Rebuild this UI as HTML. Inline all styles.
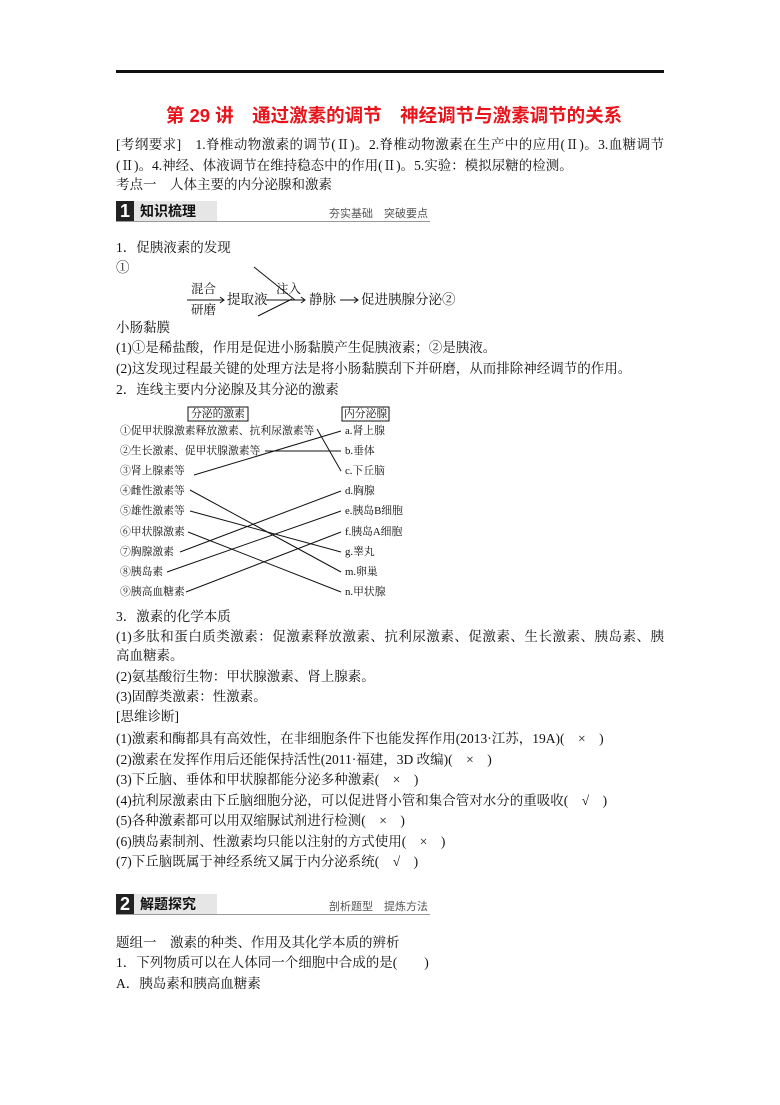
<!DOCTYPE html>
<html><head><meta charset="utf-8"><style>
body{margin:0;width:780px;height:1105px;background:#fff;position:relative;overflow:hidden;font-family:"Liberation Serif","Noto Serif CJK SC","Noto Sans CJK SC",serif;color:#111}
.t{position:absolute;left:116px;font-size:13.5px;line-height:20px;white-space:nowrap}
.j{text-align:justify;text-align-last:justify;width:548px}
.s{position:absolute;font-size:10.8px;line-height:14px;white-space:nowrap;font-family:"Liberation Serif","Noto Serif CJK SC",serif}
.hd{position:absolute;left:116px;height:20px;width:314px;border-bottom:1px solid #999}
.hd .n{position:absolute;left:0;top:0;width:18px;height:20px;background:#222;color:#fff;font:bold 18px/20px "Liberation Sans",sans-serif;text-align:center}
.hd .g{position:absolute;left:18px;top:0;width:83px;height:20px;background:#e6e6e6;font:bold 14px/20px "Liberation Sans","Noto Sans CJK SC",sans-serif;padding-left:6px;box-sizing:border-box}
.hd .r{position:absolute;right:2px;top:4px;font:11px/16px "Noto Sans CJK SC",sans-serif;color:#555}
</style></head><body>
<div style="position:absolute;left:116px;top:70px;width:548px;height:3px;background:#111"></div>
<div style="position:absolute;left:0;width:780px;top:104px;text-align:center;color:#e8141b;font:bold 18.5px/24px 'Liberation Sans','Noto Sans CJK SC',sans-serif;padding-left:4px">第 29 讲　通过激素的调节　神经调节与激素调节的关系</div>
<div class="t j" style="top:135px">[考纲要求]　1.脊椎动物激素的调节(Ⅱ)。2.脊椎动物激素在生产中的应用(Ⅱ)。3.血糖调节</div>
<div class="t" style="top:156px">(Ⅱ)。4.神经、体液调节在维持稳态中的作用(Ⅱ)。5.实验：模拟尿糖的检测。</div>
<div class="t" style="top:175px">考点一　人体主要的内分泌腺和激素</div>
<div class="hd" style="top:201px"><div class="n">1</div><div class="g">知识梳理</div><div class="r">夯实基础　突破要点</div></div>
<div class="t" style="top:238px">1．促胰液素的发现</div>
<div class="t" style="top:258px">①</div>
<svg style="position:absolute;left:0;top:0" width="780" height="1105">
<g stroke="#111" stroke-width="1" fill="none">
<line x1="187" y1="300" x2="224" y2="300"/><polyline points="220,297 224,300 220,303"/>
<line x1="266" y1="300" x2="305" y2="300"/><polyline points="301,297 305,300 301,303"/>
<line x1="254" y1="267" x2="295" y2="300"/><line x1="258" y1="316" x2="292" y2="299"/>
<line x1="340" y1="300" x2="358" y2="300"/><polyline points="354,297 358,300 354,303"/>
<rect x="188" y="407" width="60" height="14"/><rect x="342" y="407" width="47" height="14"/>
<line x1="317" y1="429" x2="341" y2="471"/>
<line x1="265" y1="451" x2="341" y2="451"/>
<line x1="194" y1="475" x2="341" y2="431"/>
<line x1="190" y1="490" x2="341" y2="572"/>
<line x1="190" y1="511" x2="341" y2="552"/>
<line x1="188" y1="532" x2="341" y2="592"/>
<line x1="180" y1="552" x2="341" y2="491"/>
<line x1="167" y1="572" x2="341" y2="511"/>
<line x1="186" y1="592" x2="341" y2="532"/>
</g></svg>
<div class="t" style="top:279px;left:191px;font-size:12.5px">混合</div>
<div class="t" style="top:300px;left:191px;font-size:12.5px">研磨</div>
<div class="t" style="top:290px;left:227px">提取液</div>
<div class="t" style="top:279px;left:276px;font-size:12.5px">注入</div>
<div class="t" style="top:290px;left:309px">静脉</div>
<div class="t" style="top:290px;left:361px">促进胰腺分泌②</div>
<div class="t" style="top:318px">小肠黏膜</div>
<div class="t" style="top:338px">(1)①是稀盐酸，作用是促进小肠黏膜产生促胰液素；②是胰液。</div>
<div class="t" style="top:359px">(2)这发现过程最关键的处理方法是将小肠黏膜刮下并研磨，从而排除神经调节的作用。</div>
<div class="t" style="top:380px">2．连线主要内分泌腺及其分泌的激素</div>
<div class="s" style="left:191px;top:407px">分泌的激素</div>
<div class="s" style="left:344px;top:407px">内分泌腺</div>
<div class="s" style="left:120px;top:424px">①促甲状腺激素释放激素、抗利尿激素等</div>
<div class="s" style="left:120px;top:444px">②生长激素、促甲状腺激素等</div>
<div class="s" style="left:120px;top:464px">③肾上腺素等</div>
<div class="s" style="left:120px;top:484px">④雌性激素等</div>
<div class="s" style="left:120px;top:504px">⑤雄性激素等</div>
<div class="s" style="left:120px;top:525px">⑥甲状腺激素</div>
<div class="s" style="left:120px;top:545px">⑦胸腺激素</div>
<div class="s" style="left:120px;top:565px">⑧胰岛素</div>
<div class="s" style="left:120px;top:585px">⑨胰高血糖素</div>
<div class="s" style="left:345px;top:424px">a.肾上腺</div>
<div class="s" style="left:345px;top:444px">b.垂体</div>
<div class="s" style="left:345px;top:464px">c.下丘脑</div>
<div class="s" style="left:345px;top:484px">d.胸腺</div>
<div class="s" style="left:345px;top:504px">e.胰岛B细胞</div>
<div class="s" style="left:345px;top:525px">f.胰岛A细胞</div>
<div class="s" style="left:345px;top:545px">g.睾丸</div>
<div class="s" style="left:345px;top:565px">m.卵巢</div>
<div class="s" style="left:345px;top:585px">n.甲状腺</div>
<div class="t" style="top:607px">3．激素的化学本质</div>
<div class="t j" style="top:627px">(1)多肽和蛋白质类激素：促激素释放激素、抗利尿激素、促激素、生长激素、胰岛素、胰</div>
<div class="t" style="top:646px">高血糖素。</div>
<div class="t" style="top:667px">(2)氨基酸衍生物：甲状腺激素、肾上腺素。</div>
<div class="t" style="top:687px">(3)固醇类激素：性激素。</div>
<div class="t" style="top:707px">[思维诊断]</div>
<div class="t" style="top:729px">(1)激素和酶都具有高效性，在非细胞条件下也能发挥作用(2013·江苏，19A)(　×　)</div>
<div class="t" style="top:750px">(2)激素在发挥作用后还能保持活性(2011·福建，3D 改编)(　×　)</div>
<div class="t" style="top:770px">(3)下丘脑、垂体和甲状腺都能分泌多种激素(　×　)</div>
<div class="t" style="top:791px">(4)抗利尿激素由下丘脑细胞分泌，可以促进肾小管和集合管对水分的重吸收(　√　)</div>
<div class="t" style="top:811px">(5)各种激素都可以用双缩脲试剂进行检测(　×　)</div>
<div class="t" style="top:832px">(6)胰岛素制剂、性激素均只能以注射的方式使用(　×　)</div>
<div class="t" style="top:852px">(7)下丘脑既属于神经系统又属于内分泌系统(　√　)</div>
<div class="hd" style="top:894px"><div class="n">2</div><div class="g">解题探究</div><div class="r">剖析题型　提炼方法</div></div>
<div class="t" style="top:933px">题组一　激素的种类、作用及其化学本质的辨析</div>
<div class="t" style="top:953px">1．下列物质可以在人体同一个细胞中合成的是(　　)</div>
<div class="t" style="top:974px">A．胰岛素和胰高血糖素</div>
</body></html>
